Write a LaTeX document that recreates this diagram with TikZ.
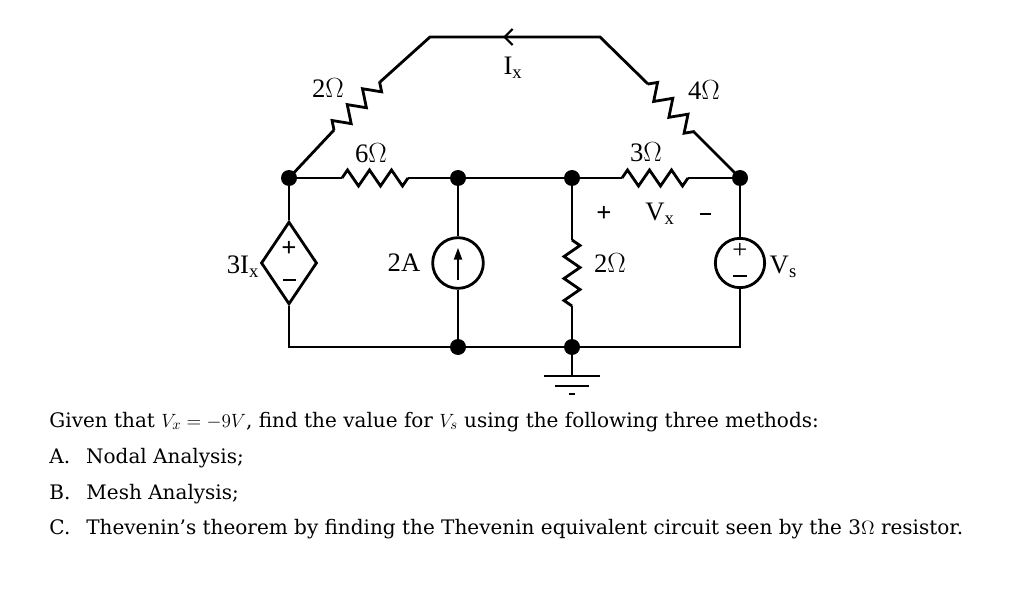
\documentclass[tikz,border=0pt]{standalone}
\usepackage{fontspec}
\setmainfont{Liberation Serif}
\newfontfamily\bodyf{DejaVu Serif}
\usetikzlibrary{decorations.pathmorphing,shapes.geometric,arrows.meta}
\begin{document}
\begin{tikzpicture}[x=0.75pt,y=-0.75pt,line width=2.1pt,
  res/.style={decorate,decoration={zigzag,segment length=16.5pt,amplitude=6pt}},
  dot/.style={circle,fill=black,inner sep=0pt,minimum size=12pt},
  lab/.style={font=\fontsize{20}{20}\selectfont,inner sep=1pt},
  txt/.style={font=\bodyf\fontsize{15}{15}\selectfont,anchor=base west,inner sep=0pt}]
\useasboundingbox (0,0) rectangle (1030,595);
% coordinates
\coordinate (A) at (289,178); \coordinate (B) at (458,178);
\coordinate (C) at (572,178); \coordinate (D) at (740,178);
\coordinate (A2) at (289,347); \coordinate (B2) at (458,347);
\coordinate (C2) at (572,347); \coordinate (D2) at (740,347);
\coordinate (TL) at (430,37); \coordinate (TR) at (600,37);
\coordinate (r1a) at (334,130); \coordinate (r1b) at (380,82);
\coordinate (r4a) at (648,84); \coordinate (r4b) at (694,132);
\coordinate (r6a) at (342,178); \coordinate (r6b) at (408,178);
\coordinate (r3a) at (622,178); \coordinate (r3b) at (688,178);
\coordinate (r2a) at (572,240); \coordinate (r2b) at (572,306);
\coordinate (G) at (572,376);
% sources
\node[diamond,draw,minimum width=42pt,minimum height=62pt,inner sep=0pt] (S3) at (289,263) {};
\node[circle,draw,minimum size=38pt,inner sep=0pt] (S2) at (458,263) {};
\node[circle,draw,minimum size=37pt,inner sep=0pt] (SV) at (740,263) {};
% wires
\draw (A) -- (r1a);
\draw[res] (r1a) -- (r1b);
\draw (r1b) -- (TL) -- (TR) -- (r4a);
\draw[res] (r4a) -- (r4b);
\draw (r4b) -- (D);
\draw (A) -- (r6a); \draw[res] (r6a) -- (r6b); \draw (r6b) -- (B) -- (C) -- (r3a);
\draw[res] (r3a) -- (r3b); \draw (r3b) -- (D);
\draw (C) -- (r2a); \draw[res] (r2a) -- (r2b); \draw (r2b) -- (C2);
\draw (A) -- (S3.north); \draw (S3.south) -- (A2) -- (B2) -- (C2) -- (D2) -- (SV.south);
\draw (SV.north) -- (D);
\draw (B) -- (S2.north); \draw (S2.south) -- (B2);
\draw (C2) -- (G);
\draw (G) ++(-28,0) -- ++(56,0);
\draw (G) ++(-17,10) -- ++(34,0);
\draw[line width=1.4pt] (G) ++(-3,18) -- ++(6,0);
% arrows / signs
\draw[-{Triangle[length=9pt,width=6pt]}, line width=1.6pt] (S2.south) ++(0,-10) -- ++(0,-32);
\draw[{Straight Barb[length=6pt,width=12pt]}-, line width=1.6pt] (503,37) -- (523,37);
\node[lab] (p3) at (289,249) {\textbf{+}};
\draw (283,280) -- (296,280);
\node[lab] (pv) at (740,251) {+};
\draw[line width=1.2pt] (733,276) -- (747,276);
% dots
\foreach \p in {A,B,C,D,B2,C2} \node[dot] at (\p) {};
% labels
\node[lab] (l2) at (328,88) {2$\Omega$};
\node[lab] (l4) at (704,90) {4$\Omega$};
\node[lab] (l6) at (371,153) {6$\Omega$};
\node[lab] (l3) at (646,152) {3$\Omega$};
\node[lab] (lix) at (513,68) {I\textsubscript{x}};
\node[lab] (lp) at (604,214) {\textbf{+}};
\node[lab] (lvx) at (660,214) {V\textsubscript{x}};
\draw (700,214) -- (711,214);
\node[lab] (l3ix) at (243,267) {3I\textsubscript{x}};
\node[lab] (l2a) at (404,263) {2A};
\node[lab] (l2o) at (610,263) {2$\Omega$};
\node[lab,anchor=west] (lvs) at (767,267) {V\textsubscript{s}};
% text
\node[txt] (t1) at (48,427) {Given that $V_x=-9V$, find the value for $V_s$ using the following three methods:};
\node[txt] (t2) at (48,463) {A.\hspace{0.8em}Nodal Analysis;};
\node[txt] (t3) at (48,499) {B.\hspace{0.8em}Mesh Analysis;};
\node[txt] (t4) at (48,534) {C.\hspace{0.8em}Thevenin’s theorem by finding the Thevenin equivalent circuit seen by the 3$\Omega$ resistor.};
\end{tikzpicture}
\end{document}
